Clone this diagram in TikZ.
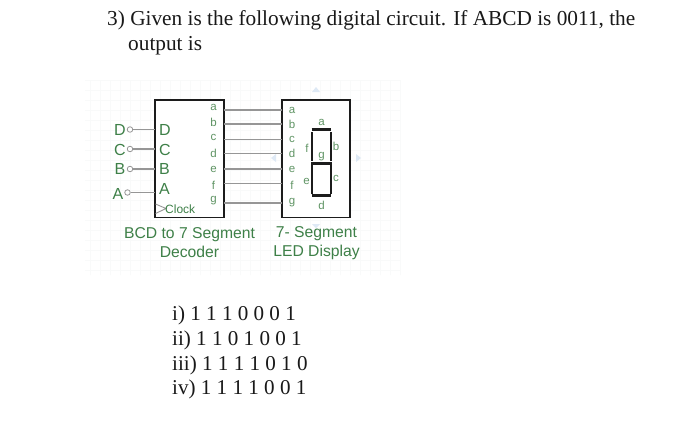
\documentclass[tikz,border=0pt]{standalone}
\usepackage{fontspec}
\setmainfont{Liberation Serif}
\setsansfont{Liberation Sans}
\definecolor{lblgreen}{RGB}{62,128,72}
\definecolor{pingreen}{RGB}{95,148,100}
\definecolor{wire}{RGB}{150,150,150}
\definecolor{boxk}{RGB}{28,28,28}
\definecolor{gridc}{RGB}{249,250,250}
\definecolor{handle}{RGB}{222,233,245}
\tikzset{
  x=1pt,y=-1pt,
  body/.style={inner sep=0pt,anchor=west,font=\fontsize{21.3}{24}\selectfont,text=black!90},
  opt/.style={inner sep=0pt,anchor=west,font=\fontsize{21.1}{24}\selectfont,text=black!90},
  chipbox/.style={draw=boxk,line width=1.8pt,fill=white},
  pinlbl/.style={inner sep=0pt,font=\sffamily\fontsize{11.5}{13}\selectfont,text=pingreen},
  inlbl/.style={inner sep=0pt,font=\sffamily\fontsize{16}{18}\selectfont,text=lblgreen},
  caplbl/.style={inner sep=0pt,align=center,font=\sffamily\fontsize{15.7}{19}\selectfont,text=lblgreen},
  wireline/.style={draw=wire,line width=1.2pt},
  segbar/.style={draw=boxk,line width=2.3pt},
  pincirc/.style={circle,draw=wire,line width=.8pt,fill=white,minimum size=5.5pt,inner sep=0pt},
  handletri/.style={fill=handle,draw=none}
}
\begin{document}
\begin{tikzpicture}
\useasboundingbox (0,0) rectangle (700,426);
\fill[white] (0,0) rectangle (700,426);
% faint grid
\draw[gridc,line width=.5pt,step=10pt] (85,80) grid (400,275);
% handles
\fill[handletri] (316,87) -- (312,92) -- (320,92) -- cycle;
\fill[handletri] (316,228) -- (312,224) -- (320,224) -- cycle;
\fill[handletri] (271,158) -- (276,154) -- (276,162) -- cycle;
\fill[handletri] (361,158) -- (356,154) -- (356,162) -- cycle;
% question
\node[body] (q1) at (107,20.5) {3) Given is the following digital circuit. If ABCD is 0011, the};
\node[body] (q2) at (128,46) {output is};
% boxes
\node[chipbox,minimum width=69pt,minimum height=117.5pt,inner sep=0pt] (dec) at (189.2,158.7) {};
\node[chipbox,minimum width=68.5pt,minimum height=117.5pt,inner sep=0pt] (disp) at (316,158.7) {};
% decoder outputs, display inputs
\foreach \n/\y/\ly/\dy in {a/110/107.5/110,b/124/122/124,c/139.5/137/139.5,d/153.5/153/153,e/169/169/169,f/183.5/185/185,g/203/201/203}{
  \node[pinlbl] (o\n) at (213.5,\ly) {\n};
  \node[pinlbl] (i\n) at (292,\dy) {\n};
  \coordinate (os\n) at (224,\y);
  \coordinate (is\n) at (281.5,\y);
  \draw[wireline] (os\n) -- (is\n);
}
% inputs
\foreach \n/\y/\ly/\cx/\lx in {D/129.5/130/130/120,C/149/150/130/120,B/169/169/130/120,A/192.5/194/127.5/118}{
  \node[pincirc] (c\n) at (\cx,\y) {};
  \coordinate (p\n) at (154.5,\y);
  \draw[wireline] (c\n) -- (p\n);
  \node[inlbl] (l\n) at (\lx,\ly) {\n};
}
\node[inlbl,anchor=west] (pD) at (159,130) {D};
\node[inlbl,anchor=west] (pC) at (159,149.5) {C};
\node[inlbl,anchor=west] (pB) at (159,169) {B};
\node[inlbl,anchor=west] (pA) at (159,188.5) {A};
% clock
\coordinate (ck1) at (155.5,204);
\coordinate (ck2) at (166,208.5);
\coordinate (ck3) at (155.5,213.5);
\draw[draw=wire,line width=.9pt] (ck1) -- (ck2) -- (ck3);
\node[inner sep=0pt,anchor=west,font=\sffamily\fontsize{12}{14}\selectfont,text=lblgreen] (clk) at (165,209.5) {Clock};
% captions
\node[caplbl] (capl) at (189.5,243) {BCD to 7 Segment\\Decoder};
\node[caplbl] (capr) at (316.5,243) {7- Segment\\LED Display};
% seven segments
\draw[segbar] (311.5,129.5) -- (331,129.5);
\draw[segbar] (311.7,132) -- (311.7,160.5);
\draw[segbar] (331,132) -- (331,160.5);
\draw[segbar,line join=miter] (311.7,193.5) -- (311.7,163.5) -- (331,163.5) -- (331,193.5);
\draw[segbar] (311.5,195.5) -- (331,195.5);
\node[pinlbl] (sa) at (321.5,122) {a};
\node[pinlbl] (sb) at (336,146.5) {b};
\node[pinlbl] (sc) at (336,178) {c};
\node[pinlbl] (sd) at (321.5,205) {d};
\node[pinlbl] (se) at (306.5,181) {e};
\node[pinlbl] (sf) at (307,148) {f};
\node[pinlbl] (sg) at (321.5,156.5) {g};
% options
\node[opt] (o1) at (172,315.5) {i) 1 1 1 0 0 0 1};
\node[opt] (o2) at (172,340) {ii) 1 1 0 1 0 0 1};
\node[opt] (o3) at (172,365) {iii) 1 1 1 1 0 1 0};
\node[opt] (o4) at (172,389) {iv) 1 1 1 1 0 0 1};
\end{tikzpicture}
\end{document}
